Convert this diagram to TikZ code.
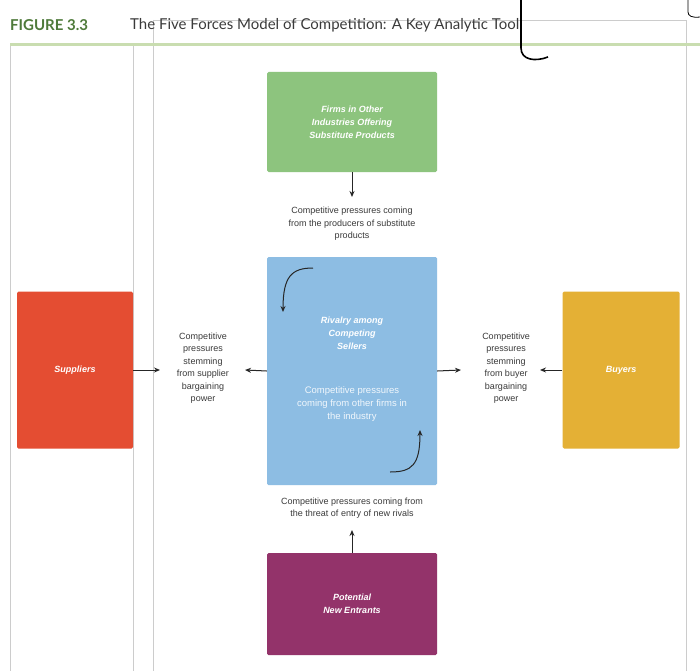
\documentclass[tikz,border=0pt]{standalone}
\usepackage{fontspec}
\setmainfont{Liberation Sans}
\newfontfamily\titlefont{Lato}
\usetikzlibrary{arrows.meta}
\definecolor{gbox}{HTML}{8DC47E}
\definecolor{bbox}{HTML}{8DBDE3}
\definecolor{rbox}{HTML}{E44D32}
\definecolor{ybox}{HTML}{E4B035}
\definecolor{pbox}{HTML}{93336A}
\definecolor{tgreen}{HTML}{4E7A3A}
\definecolor{lgreen}{HTML}{C9DDB0}
\definecolor{tgray}{HTML}{3A3A3A}
\begin{document}
\begin{tikzpicture}[x=1pt,y=-1pt,
  box/.style={draw=none,rounded corners=1.5pt,text=white,align=center,font=\fontsize{9}{13}\selectfont\bfseries\itshape},
  lbl/.style={align=center,text=tgray,font=\fontsize{9}{12.5}\selectfont},
  arr/.style={-{Stealth[length=6pt,width=5pt]},line width=1pt,draw=black!85},
  frame/.style={draw=black!20,line width=0.8pt}]
\useasboundingbox (0,0) rectangle (700,671);
\fill[white] (0,0) rectangle (700,671);
% frame lines
\draw[frame] (10,45) -- (10,671);
\draw[frame] (133,45) -- (133,671);
\draw[frame] (153,20) -- (153,671);
\draw[frame] (153,20) -- (686,20);
\draw[frame] (686,20) -- (686,671);
\draw[lgreen,line width=3pt] (10,45) -- (700,45);
% title
\node[anchor=west,inner sep=0,font=\titlefont\fontsize{15}{15}\selectfont\bfseries,text=tgreen] (fig) at (10,25) {FIGURE 3.3};
\node[anchor=west,inner sep=0,font=\titlefont\fontsize{15}{15}\selectfont,text=tgray] (title) at (130,25) {The Five Forces Model of Competition: A Key Analytic Tool};
% scribble
\draw[line width=1.6pt,black] (521,0) -- (521,48) .. controls (521,60) and (535,62) .. (548,57);
\draw[line width=0.8pt,black] (688,0) -- (688,12) .. controls (688,16) and (692,18) .. (700,17);
% boxes
\node[box,fill=gbox,minimum width=170pt,minimum height=100pt] (sub) at (352,122) {Firms in Other\\Industries Offering\\Substitute Products};
\node[box,fill=bbox,minimum width=170pt,minimum height=228pt] (riv) at (352,371) {};
\node[box] (rivt) at (352,333) {Rivalry among\\Competing\\Sellers};
\node[lbl,text=white!88!bbox,font=\fontsize{9.5}{13}\selectfont] (rivs) at (352,404) {Competitive pressures\\coming from other firms in\\the industry};
\node[box,fill=rbox,minimum width=116pt,minimum height=157pt] (sup) at (75,370) {Suppliers};
\node[box,fill=ybox,minimum width=117pt,minimum height=157pt] (buy) at (621,370) {Buyers};
\node[box,fill=pbox,minimum width=170pt,minimum height=102pt] (ent) at (352,604) {Potential\\New Entrants};
% labels
\node[lbl] (lsub) at (352,224) {Competitive pressures coming\\from the producers of substitute\\products};
\node[lbl] (lsup) at (203,368) {Competitive\\pressures\\stemming\\from supplier\\bargaining\\power};
\node[lbl] (lbuy) at (506,368) {Competitive\\pressures\\stemming\\from buyer\\bargaining\\power};
\node[lbl] (lent) at (352,508) {Competitive pressures coming from\\the threat of entry of new rivals};
% arrows
\coordinate (a1) at (352,197);
\draw[arr] (sub.south) -- (a1);
\coordinate (a2) at (160,370);
\draw[arr] (sup.east) -- (a2);
\coordinate (a3) at (245,370);
\draw[arr] (riv.west) -- (a3);
\coordinate (a4) at (461,370);
\draw[arr] (riv.east) -- (a4);
\coordinate (a5) at (540,370);
\draw[arr] (buy.west) -- (a5);
\coordinate (a6) at (352,530);
\draw[arr] (ent.north) -- (a6);
% curved arrows in rivalry box
\coordinate (c1s) at (313,268);
\coordinate (c1e) at (283,312);
\draw[arr] (c1s) .. controls (292,268) and (283,276) .. (c1e);
\coordinate (c2s) at (390,472);
\coordinate (c2e) at (420,430);
\draw[arr] (c2s) .. controls (412,472) and (420,465) .. (c2e);
\end{tikzpicture}
\end{document}
